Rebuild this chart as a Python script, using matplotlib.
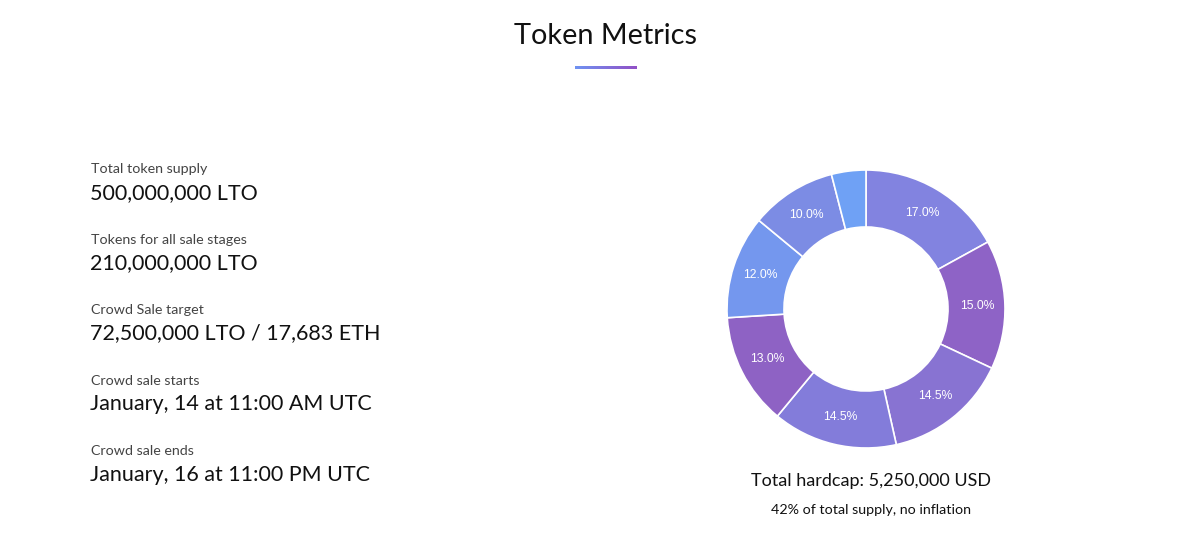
import matplotlib
matplotlib.use("Agg")
import matplotlib.pyplot as plt
import numpy as np
from matplotlib.colors import LinearSegmentedColormap

# ---- data ----
shares = [17.0, 15.0, 14.5, 14.5, 13.0, 12.0, 10.0, 4.0]
slice_colors = ["#8283E0", "#8E63C6", "#8873D2", "#837CDA", "#8E62C4", "#7497EE", "#7C8CE4", "#6FA1F5"]
metric_labels = ["Total token supply", "Tokens for all sale stages", "Crowd Sale target",
                 "Crowd sale starts", "Crowd sale ends"]
metric_values = ["500,000,000 LTO", "210,000,000 LTO", "72,500,000 LTO / 17,683 ETH",
                 "January, 14 at 11:00 AM UTC", "January, 16 at 11:00 PM UTC"]
title = "Token Metrics"
hardcap = "Total hardcap: 5,250,000 USD"
hardcap_sub = "42% of total supply, no inflation"

W, H = 1200, 542
fig = plt.figure(figsize=(W / 100, H / 100), dpi=100)
fig.patch.set_facecolor("white")

bg = fig.add_axes([0, 0, 1, 1])
bg.axis("off")

FONT = ["Lato", "DejaVu Sans"]

bg.text(606, 36, title, ha="center", va="center", fontsize=20.8, family=FONT,
        color="#111111", fontweight="normal")

grad = np.linspace(0, 1, 256).reshape(1, -1)
cmap = LinearSegmentedColormap.from_list("u", ["#6F93F2", "#9250C6"])
bg.imshow(grad, cmap=cmap, extent=[575, 637, 69, 66], aspect="auto", zorder=2)
bg.set_xlim(0, W)
bg.set_ylim(H, 0)

label_y = [169, 240, 310, 381, 451]
value_y = [193, 263, 333, 404, 475]
for lab, val, ly, vy in zip(metric_labels, metric_values, label_y, value_y):
    bg.text(91, ly, lab, ha="left", va="center", fontsize=10.3, family=FONT, color="#444444")
    bg.text(90.5, vy, val, ha="left", va="center", fontsize=15.5, family=FONT, color="#111111")

bg.text(871, 481, hardcap, ha="center", va="center", fontsize=13, family=FONT, color="#111111")
bg.text(871, 510, hardcap_sub, ha="center", va="center", fontsize=10.3, family=FONT, color="#111111")

# donut
cx, cy, R = 866, 309, 139
ax = fig.add_axes([(cx - R) / W, (H - cy - R) / H, 2 * R / W, 2 * R / H])
wedges, texts, autotexts = ax.pie(
    shares, colors=slice_colors, startangle=90, counterclock=False,
    radius=1.0, wedgeprops=dict(width=0.41, edgecolor="white", linewidth=1.2),
    autopct=lambda p: f"{p:.1f}%" if p > 5 else "", pctdistance=0.8,
    textprops=dict(color="white", fontsize=8.7, family=["Liberation Sans", "DejaVu Sans"]))
ax.set_xlim(-1, 1)
ax.set_ylim(-1, 1)
ax.set_aspect("equal")
ax.axis("off")

fig.savefig("out.png", dpi=100, facecolor="white")
